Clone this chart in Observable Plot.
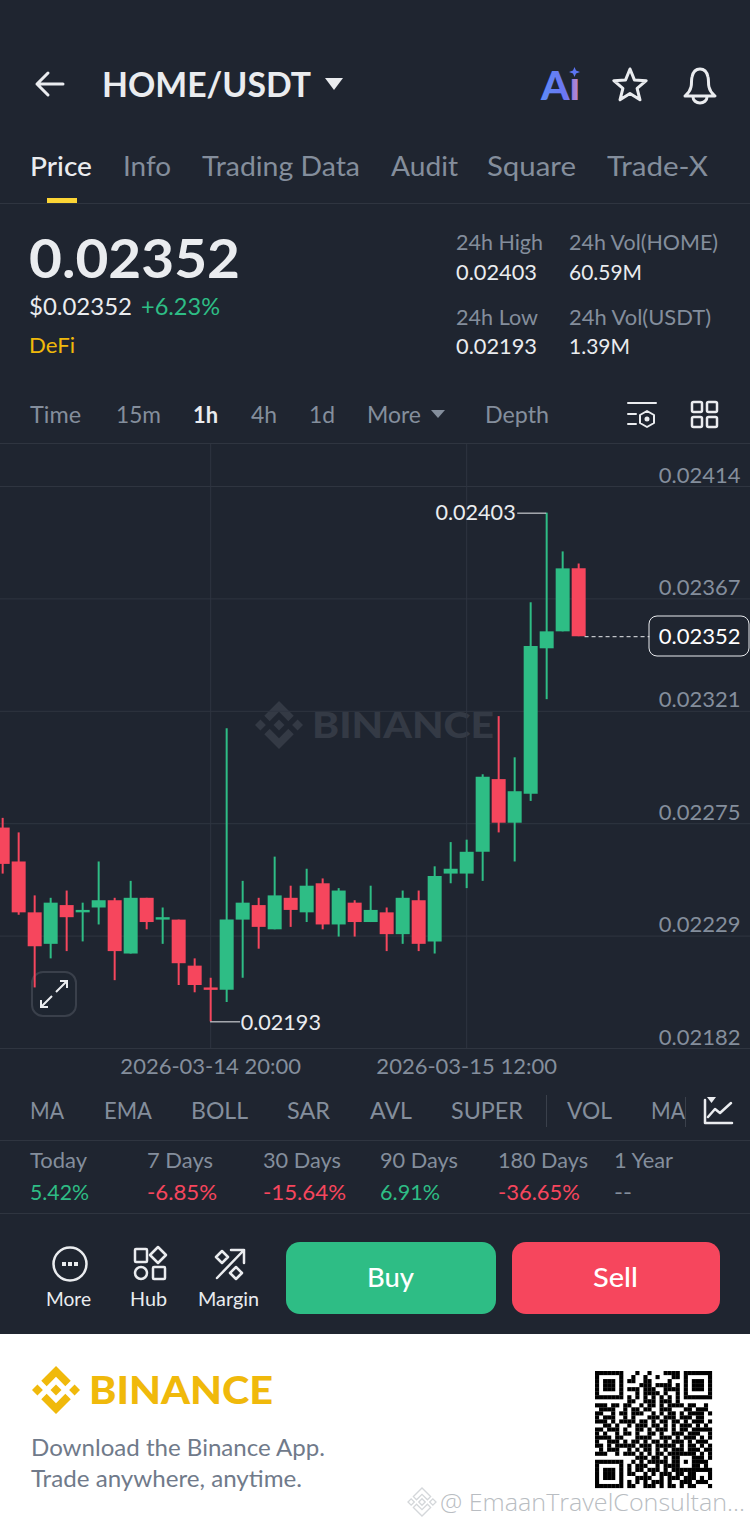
<!DOCTYPE html>
<html><head><meta charset="utf-8">
<script src="https://cdn.jsdelivr.net/npm/d3@7"></script>
<script src="https://cdn.jsdelivr.net/npm/@observablehq/plot@0.6"></script>
<style>
html,body{margin:0;padding:0;background:#1f2530;}
#page{position:relative;width:750px;height:1526px;overflow:hidden;background:#1f2530;font-family:Lato,sans-serif;}
#chrome{position:absolute;left:0;top:0;}
#chart{position:absolute;left:0;top:444px;}
#chart svg{background:transparent;display:block;}
</style></head>
<body><div id="page"><svg id="chrome" width="750" height="1526" viewBox="0 0 750 1526"></svg><div id="chart"></div></div>
<script>
// ---- chart data (1h candles) ----
const firstCandle = "2026-03-14T07:00:00Z";
const opens  = [.02273,.02259,.02238,.02225,.02241,.02238,.02240,.02243,.02221,.02244,.02235,.02235,.02216,.02207,.02206,.02235,.02241,.02231,.02244,.02238,.02250,.02233,.02242,.02234,.02238,.02229,.02243,.02226,.02254,.02254,.02263,.02293,.02275,.02287,.02347,.02354,.02380];
const closes = [.02258,.02238,.02224,.02242,.02236,.02239,.02243,.02222,.02244,.02234,.02236,.02217,.02208,.02206,.02235,.02242,.02232,.02245,.02239,.02249,.02233,.02247,.02234,.02239,.02229,.02244,.02225,.02253,.02256,.02263,.02294,.02275,.02288,.02348,.02354,.02380,.02352];
const highs  = [.02277,.02271,.02245,.02244,.02247,.02242,.02259,.02244,.02251,.02244,.02240,.02235,.02219,.02211,.02314,.02251,.02244,.02261,.02249,.02256,.02252,.02248,.02243,.02249,.02240,.02247,.02247,.02257,.02267,.02268,.02295,.02319,.02302,.02366,.02403,.02387,.02382];
const lows   = [.02254,.02237,.02207,.02219,.02222,.02226,.02233,.02210,.02221,.02231,.02225,.02208,.02205,.02193,.02201,.02211,.02223,.02231,.02232,.02234,.02231,.02228,.02228,.02234,.02222,.02225,.02222,.02221,.02250,.02248,.02251,.02271,.02259,.02284,.02326,.02354,.02352];
const priceTicks  = [.02414,.023676,.023212,.022748,.022284,.02182];
const priceLabels = ["0.02414","0.02367","0.02321","0.02275","0.02229","0.02182"];
const dateTicks   = ["2026-03-14T20:00:00Z","2026-03-15T12:00:00Z"].map(d=>new Date(d));
const paneTop = .024313;
const lastPrice = .02352, highPrice = .02403, lowPrice = .02193;
const highIdx = 34, lowIdx = 13, lastIdx = 36;

// ---- page text ----
const C={w:"#EAECEF",g:"#848E9C",up:"#2EBD85",dn:"#F6465D",y:"#F0B90B",line:"#2f3540"};
const texts=[
 [103,311,97,"HOME/USDT",34,C.w,700],
 [31,92,176,"Price",26,C.w,500],[124,171,176,"Info",26,C.g,400],[203,360,176,"Trading Data",26,C.g,400],
 [392,458,176,"Audit",26,C.g,400],[488,576,176,"Square",26,C.g,400],[608,708,176,"Trade-X",26,C.g,400],
 [30,240,278,"0.02352",54,C.w,700],
 [30,132,315,"$0.02352",23,C.w,400],[142,220,315,"+6.23%",23,C.up,400],[30,75,353,"DeFi",22,C.y,400],
 [457,543,250,"24h High",22,C.g,400],[570,718,250,"24h Vol(HOME)",22,C.g,400],
 [457,537,280,"0.02403",22,C.w,400],[570,642,280,"60.59M",22,C.w,400],
 [457,538,325,"24h Low",22,C.g,400],[570,711,325,"24h Vol(USDT)",22,C.g,400],
 [457,537,354,"0.02193",22,C.w,400],[570,630,354,"1.39M",22,C.w,400],
 [31,81,423,"Time",23,C.g,400],[117,161,423,"15m",23,C.g,400],[194,218,423,"1h",23,C.w,700],
 [252,277,423,"4h",23,C.g,400],[310,335,423,"1d",23,C.g,400],[368,421,423,"More",23,C.g,400],[486,549,423,"Depth",23,C.g,400],
 [31,64,1119,"MA",23,C.g,400],[105,152,1119,"EMA",23,C.g,400],[192,248,1119,"BOLL",23,C.g,400],[288,330,1119,"SAR",23,C.g,400],
 [371,412,1119,"AVL",23,C.g,400],[452,523,1119,"SUPER",23,C.g,400],[568,612,1119,"VOL",23,C.g,400],[652,685,1119,"MA",23,C.g,400],
 [31,87,1168,"Today",22,C.g,400],[148,213,1168,"7 Days",22,C.g,400],[264,341,1168,"30 Days",22,C.g,400],
 [381,458,1168,"90 Days",22,C.g,400],[499,588,1168,"180 Days",22,C.g,400],[615,673,1168,"1 Year",22,C.g,400],
 [31,89,1200,"5.42%",22,C.up,400],[148,217,1200,"-6.85%",22,C.dn,400],[264,346,1200,"-15.64%",22,C.dn,400],
 [381,440,1200,"6.91%",22,C.up,400],[499,580,1200,"-36.65%",22,C.dn,400],[615,632,1200,"--",22,C.g,400],
 [47,91,1306,"More",20,C.w,400],[131,167,1306,"Hub",20,C.w,400],[199,259,1306,"Margin",20,C.w,400],
 [368,414,1287,"Buy",26,"#fff",500],[594,638,1287,"Sell",26,"#fff",500],
 [90,273,1404,"BINANCE",38,C.y,900],
 [32,325,1456,"Download the Binance App.",23,"#707A8A",400],[32,302,1487,"Trade anywhere, anytime.",23,"#707A8A",400],
];
const logo='<path d="M38.73,53.2l24.59-24.58,24.6,24.6,14.3-14.31L63.32,0,24.43,38.9Z"/><path d="M0,63.31l14.3-14.31,14.31,14.31L14.3,77.61Z"/><path d="M38.73,73.41l24.59,24.59,24.6-24.6,14.31,14.29L63.32,126.61,24.42,87.72Z"/><path d="M98,63.31l14.3-14.31,14.31,14.31L112.31,77.61Z"/><path d="M77.83,63.3L63.32,48.78,48.82,63.28,63.32,77.82Z"/>';
const qrRows=[
"#######...#..#...####.#######","#.....#..#..#..#...##.#.....#","#.###.#.##..##....#...#.###.#",
"#.###.#....###.####.###.#.###","#.###.#.###.###..####.#...#.#","#.....#...#.####.#..###.#.#..",
"#######.#.#.#.#.#.#.#.#.#.###","........##..###.###.#.###....","###.##.##..#.##.#.####.##..#.",
".####..#.##.##..###...##.###.","##..#.##.###..#.#.##.#.####.#","#.###..#.#...###.###.###.##..",
"###.#.####.##.#.##.##.#.###.#","..##.#..#.###.##.#.#.###.#.#.","##.###.#..##.#.###.#.##.#####",
"#.#..#.##.#..##.#..###.###..#","####.##...####..###.#.###.#.#","#..###.#.##.#.##.#.###.#.###.",
"##.#.#####.###.#####.#.##.#.#",".#.###..#.#.##.#.#.###.###.##","###..#.###.#.#.##.###.#.#.#.#",
"#..##.#...###.##.#.#.###.##.#","##.#.###.#.#.#####.###.#.###.",".#...#..#.###..#.###.###.#.#.",
"........#.##.###.#.##.#.#####","#######.##..#.#.###.##.##...#","#.....#...####..#.###.###.#.#",
"#.###.#.#.#.#.###.#..###.###.","#.###.#.##..###.#.##.#.##...#"];

// ---- chrome drawing ----
const T=([a,b,y,s,fs,c,w])=>`<text x="${a-1}" y="${y}" font-size="${fs}" fill="${c}" font-weight="${w}" textLength="${b-a+1}" lengthAdjust="spacingAndGlyphs">${s}</text>`;
const hr=y=>`<rect x="0" y="${y}" width="750" height="1" fill="${C.line}"/>`;
function star(cx,cy,R,r){let p=[];for(let i=0;i<10;i++){const a=-Math.PI/2+i*Math.PI/5,q=i%2?r:R;p.push((cx+q*Math.cos(a)).toFixed(1)+","+(cy+q*Math.sin(a)).toFixed(1));}return p.join(" ");}
function qr(){
 const n=qrRows.length;
 let m=qrRows.map(r=>r.split("").map(c=>c==="#"));
 const fin=(x0,y0)=>{for(let y=-1;y<8;y++)for(let x=-1;x<8;x++){const X=x0+x,Y=y0+y;if(X<0||Y<0||X>=n||Y>=n)continue;
   const out=x<0||y<0||x>6||y>6, ring=x===0||y===0||x===6||y===6, core=x>=2&&x<=4&&y>=2&&y<=4; m[Y][X]=!out&&(ring||core);}};
 fin(0,0);fin(n-7,0);fin(0,n-7);
 for(let y=-2;y<=2;y++)for(let x=-2;x<=2;x++)m[n-7+y][n-7+x]=Math.max(Math.abs(x),Math.abs(y))!==1;
 let s="";const k=117/n;
 m.forEach((r,y)=>r.forEach((v,x)=>{if(v)s+=`<rect x="${(595+x*k).toFixed(2)}" y="${(1371+y*k).toFixed(2)}" width="${(k+.1).toFixed(2)}" height="${(k+.1).toFixed(2)}"/>`;}));
 return `<g fill="#000" >${s}</g>`;
}
const st=`fill="none" stroke="${C.w}" stroke-linecap="round" stroke-linejoin="round"`;
document.getElementById("chrome").innerHTML=`
<defs><linearGradient id="aig" x1="0" y1="0" x2="1" y2="0"><stop offset="0" stop-color="#5C8DF6"/><stop offset=".65" stop-color="#6C74F2"/><stop offset="1" stop-color="#C98AC8"/></linearGradient></defs>
<g ${st} stroke-width="3"><path d="M63 84H37M48 73L37 84L48 95"/></g>
<polygon points="325,78 343,78 334,90" fill="${C.w}"/>
<text x="541" y="100" font-size="40" font-weight="900" fill="url(#aig)" textLength="39" lengthAdjust="spacingAndGlyphs">Ai</text>
<rect x="567" y="64" width="15" height="14" fill="#1f2530"/>
<polygon points="574.5,67 576,70.5 580,72 576,73.5 574.5,77 573,73.5 569,72 573,70.5" fill="#5C74F2"/>
<polygon points="${star(630,86,17,7.5)}" ${st} stroke-width="3"/>
<g ${st} stroke-width="3"><path d="M685 96c1-1 5-4 6-9c1-4 0-6 1-10c1-5 4-8 8-8s7 3 8 8c1 4 0 6 1 10c1 5 5 8 6 9zM693 97a7 6 0 0 0 14 0"/></g>
<rect x="47" y="198" width="30" height="5" fill="#FCD535"/>
${hr(203)}${hr(443)}${hr(1140)}${hr(1213)}
<polygon points="431,410 445,410 438,418" fill="${C.g}"/>
<g ${st} stroke-width="2"><path d="M628 403H656M628 414H636M628 424H636M647 411l7 4v8l-7 4l-7-4v-8z"/><circle cx="647" cy="419" r="1.5" fill="${C.w}"/></g>
<g ${st} stroke-width="2.5"><rect x="692" y="402" width="10" height="10" rx="1.5"/><rect x="707" y="402" width="10" height="10" rx="1.5"/><rect x="692" y="417" width="10" height="10" rx="1.5"/><rect x="707" y="417" width="10" height="10" rx="1.5"/></g>
<g transform="translate(255,701) scale(${48/126.61})" fill="#343a45">${logo}</g>
<text x="312" y="738" font-size="36" font-weight="900" fill="#343a45" textLength="182" lengthAdjust="spacingAndGlyphs">BINANCE</text>
<rect x="32" y="972" width="44" height="44" rx="11" fill="#1f2530" fill-opacity=".75" stroke="#3a404b" stroke-width="2"/>
<g fill="none" stroke="${C.w}" stroke-width="2"><path d="M41 1007L52 996M41 1000V1007H48M56 992L67 981M60 981H67V988"/></g>
<rect x="649" y="616" width="100" height="40" rx="8" fill="#1f2530" stroke="${C.w}" stroke-width="1"/>
<rect x="546" y="1095" width="1" height="32" fill="#3a404b"/><rect x="685" y="1097" width="1" height="30" fill="#3a404b"/>
<g ${st} stroke-width="2.5"><path d="M705 1100V1123H732M708 1117L715 1109L720 1113L731 1103"/></g><polygon points="707,1097 716,1097 711.5,1103" fill="${C.w}"/>
<g ${st} stroke-width="2.5"><circle cx="70" cy="1264" r="16.5"/></g><g fill="${C.w}"><rect x="62" y="1262" width="4" height="4"/><rect x="68" y="1262" width="4" height="4"/><rect x="74" y="1262" width="4" height="4"/></g>
<g ${st} stroke-width="2.5"><rect x="135" y="1249" width="12" height="13" rx="1"/><path d="M158 1247l8 8l-8 8l-8-8z"/><circle cx="141" cy="1273" r="6"/><rect x="153" y="1267" width="12" height="12" rx="1"/></g>
<g ${st} stroke-width="2.5"><path d="M217 1278L244 1250M231 1250H244V1263M222 1251l6 6l-6 6l-6-6zM236 1267l6 6l-6 6l-6-6z"/></g>
<rect x="286" y="1242" width="210" height="72" rx="14" fill="${C.up}"/><rect x="512" y="1242" width="208" height="72" rx="14" fill="${C.dn}"/>
<rect x="0" y="1334" width="750" height="192" fill="#fff"/>
<g transform="translate(32,1366) scale(${48/126.61})" fill="${C.y}">${logo}</g>
${qr()}
<g transform="translate(408,1488) scale(${28/126.61})" fill="none" stroke="#d4d7da" stroke-width="6">${logo}</g>
<text x="440" y="1511" font-family="'Open Sans'" font-weight="300" font-size="24" fill="#b9bdc2" textLength="305" lengthAdjust="spacingAndGlyphs">@ EmaanTravelConsultan...</text>
${texts.map(T).join("")}
`;

// ---- candles through Plot ----
const t0=new Date(firstCandle), hour=i=>d3.utcHour.offset(t0,i);
const candles=opens.map((o,i)=>({t:hour(i),open:o,close:closes[i],high:highs[i],low:lows[i],up:closes[i]>=o}));
const xAt=h=>new Date(+t0+h*3600e3);
const colorOf=d=>d.up?C.up:C.dn;
const plot=Plot.plot({
 width:750,height:640,marginLeft:0,marginRight:0,marginTop:42,marginBottom:36,
 style:{background:"transparent",fontFamily:"Lato,sans-serif"},
 x:{type:"utc",domain:[xAt(-2.17/16),xAt((750-2.17)/16)]},
 y:{domain:[priceTicks[5],priceTicks[0]]},
 marks:[
  Plot.ruleY(priceTicks,{stroke:C.line,strokeWidth:1}),
  Plot.ruleX(dateTicks,{y1:priceTicks[5],y2:paneTop,stroke:C.line,strokeWidth:1}),
  Plot.axisY(priceTicks,{anchor:"right",tickSize:0,tickPadding:0,textAnchor:"end",dx:-10,dy:-11,tickFormat:d=>priceLabels[priceTicks.indexOf(d)],fontSize:22,fill:"#848E9C",label:null}),
  Plot.axisX(dateTicks,{anchor:"bottom",tickSize:0,tickPadding:10,tickFormat:d=>d3.utcFormat("%Y-%m-%d %H:%M")(d),fontSize:22,fill:"#848E9C",label:null}),
  Plot.ruleX(candles,{x:"t",y1:"low",y2:"high",stroke:colorOf,strokeWidth:2}),
  Plot.ruleX(candles,{x:"t",y1:"open",y2:"close",stroke:colorOf,strokeWidth:14}),
  Plot.ruleY([lastPrice],{x1:xAt(lastIdx+.4),x2:xAt(lastIdx+4.45),stroke:"#EAECEF",strokeWidth:1,strokeDasharray:"4 3"}),
  Plot.text([lastPrice],{y:d=>d,frameAnchor:"right",dx:-10,text:d=>d.toFixed(5),fontSize:22,fill:"#fff",textAnchor:"end"}),
  Plot.ruleY([highPrice],{x1:xAt(highIdx),x2:xAt(highIdx-1.81),stroke:"#EAECEF",strokeWidth:1}),
  Plot.text([highPrice],{x:()=>xAt(highIdx),y:d=>d,dx:-31,text:d=>d.toFixed(5),fontSize:21.6,fill:"#EAECEF",textAnchor:"end"}),
  Plot.ruleY([lowPrice],{x1:xAt(lowIdx),x2:xAt(lowIdx+1.87),stroke:"#EAECEF",strokeWidth:1}),
  Plot.text([lowPrice],{x:()=>xAt(lowIdx),y:d=>d,dx:30,dy:1,text:d=>d.toFixed(5),fontSize:21.6,fill:"#EAECEF",textAnchor:"start"}),
 ]
});
document.getElementById("chart").appendChild(plot);
</script>
</body></html>
